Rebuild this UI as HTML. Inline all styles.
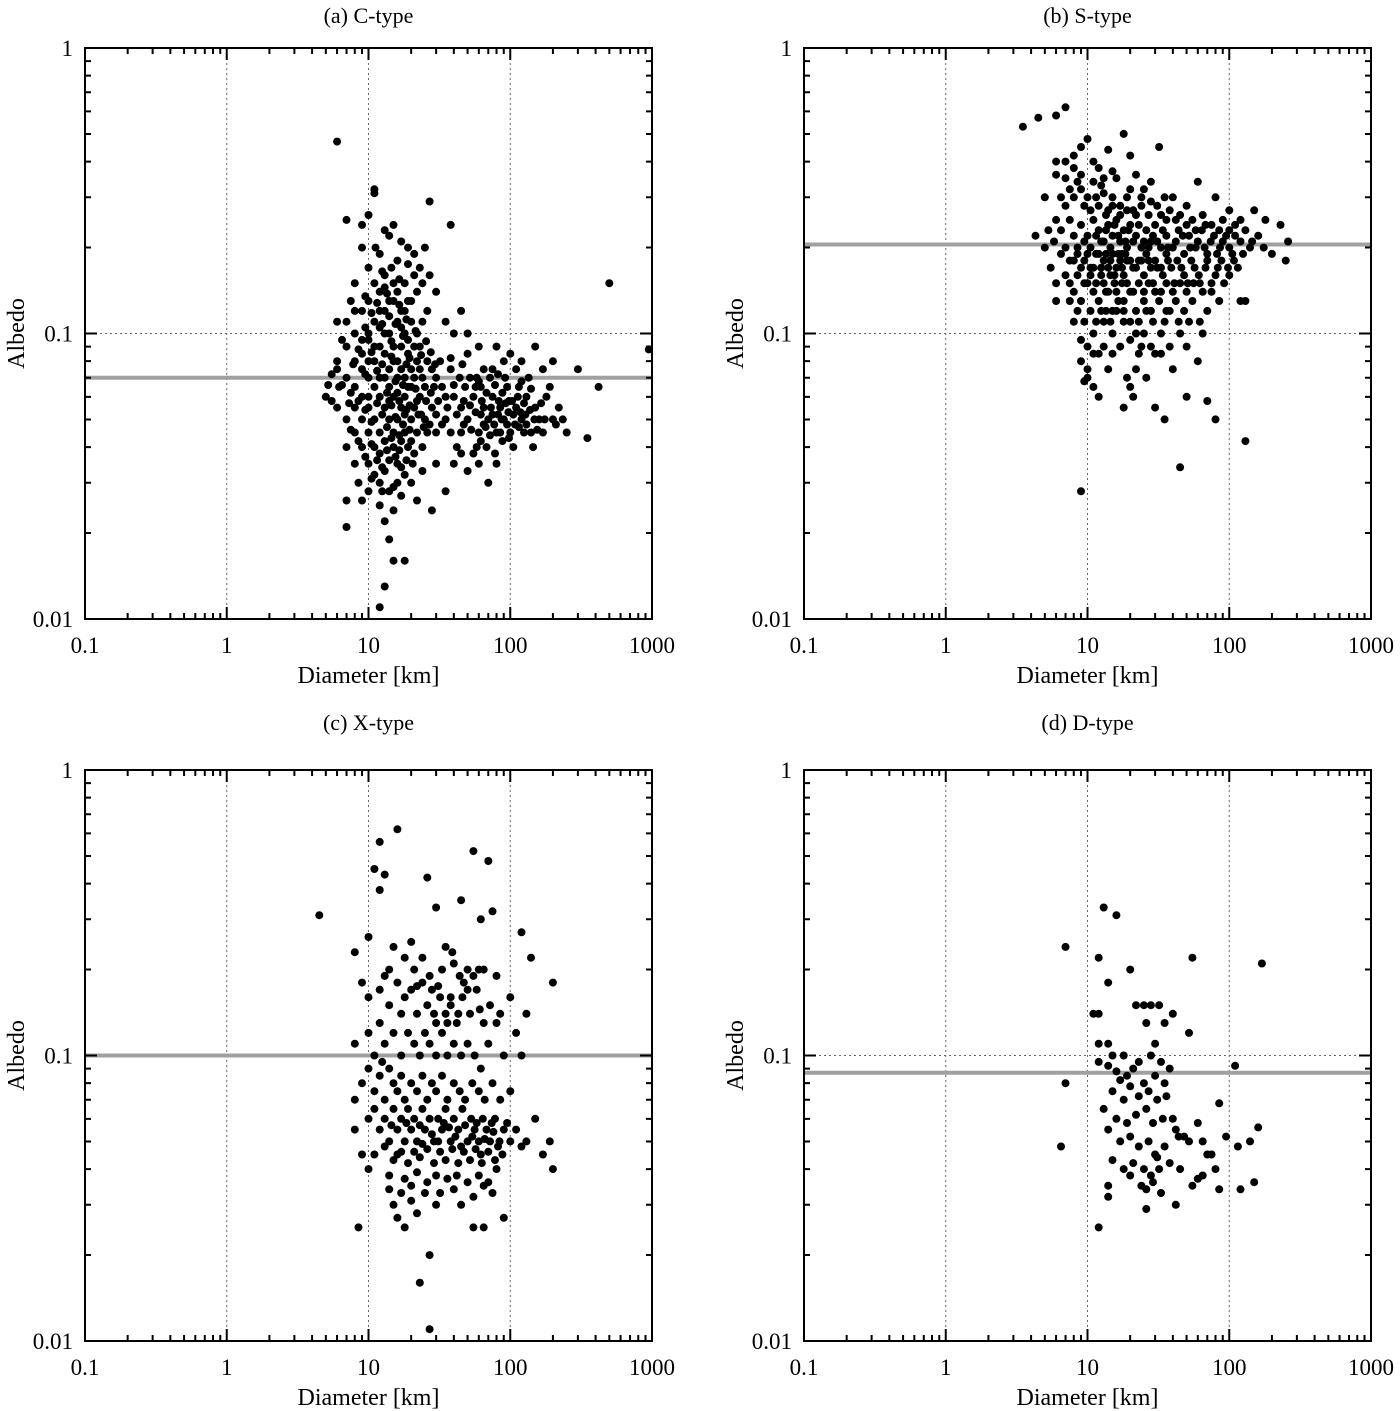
<!DOCTYPE html>
<html><head><meta charset="utf-8">
<style>
html,body{margin:0;padding:0;background:#fff;}
svg{display:block;font-family:"Liberation Serif",serif;}
</style></head>
<body>
<svg id="chart" width="1400" height="1411" viewBox="0 0 1400 1411" xmlns="http://www.w3.org/2000/svg"></svg>
<script>
const xTickValues = [0.1, 1, 10, 100, 1000];
const xTickLabels = ["0.1", "1", "10", "100", "1000"];
const yTickValues = [0.01, 0.1, 1];
const yTickLabels = ["0.01", "0.1", "1"];
const panelTitles = ["(a) C-type", "(b) S-type", "(c) X-type", "(d) D-type"];
const meanAlbedos = [0.07, 0.205, 0.1, 0.087];

const cTypePoints = [[7,0.25],[9,0.24],[10,0.26],[11,0.32],[13,0.23],[14,0.22],[15,0.24],[17,0.21],[19,0.2],[21,0.19],[23,0.17],[25,0.2],[27,0.16],[9,0.2],[12,0.19],[16,0.18],[10,0.17],[13,0.16],[18,0.15],[8,0.15],[22,0.14],[30,0.14],[26,0.12],[35,0.11],[40,0.1],[45,0.12],[50,0.1],[60,0.09],[80,0.09],[100,0.085],[150,0.09],[200,0.08],[120,0.08],
[6,0.11],[7,0.09],[8,0.1],[9,0.12],[10,0.13],[11,0.11],[12,0.14],[13,0.12],[14,0.1],[15,0.13],[16,0.11],[17,0.12],[18,0.1],[19,0.13],[20,0.11],[21,0.09],[22,0.1],[24,0.11],[15,0.09],[12,0.09],[9,0.085],[10,0.095],[11,0.08],[13,0.085],[14,0.075],[16,0.08],[17,0.09],[18,0.07],[19,0.085],[20,0.075],[22,0.08],[24,0.07],[26,0.08],[28,0.075],[30,0.07],[33,0.065],[6,0.075],[7,0.07],[8,0.065],[9,0.06],[10,0.07],[11,0.065],[12,0.06],[13,0.07],[14,0.065],[15,0.06],[16,0.07],[17,0.055],[18,0.06],[20,0.065],[21,0.055],[23,0.06],[25,0.05],[5,0.06],[6,0.055],[7,0.05],[8,0.055],[9,0.05],[10,0.055],[11,0.05],[12,0.045],[13,0.055],[14,0.05],[15,0.045],[16,0.05],[18,0.045],[20,0.05],[22,0.045],[26,0.045],[28,0.055],[7,0.04],[8,0.045],[9,0.04],[10,0.045],[11,0.04],[12,0.038],[13,0.042],[14,0.036],[15,0.04],[16,0.035],[17,0.042],[19,0.04],[21,0.038],[24,0.04],[8,0.035],[10,0.035],[11,0.032],[12,0.03],[13,0.033],[14,0.028],[16,0.03],[18,0.032],[20,0.03],[24,0.033],[30,0.035],[10,0.028],[12,0.025],[13,0.022],[15,0.024],[9,0.026],[7,0.026],[17,0.027],[22,0.026],[28,0.024],[35,0.028],
[11,0.15],[12,0.12],[14,0.13],[16,0.14],[18,0.12],[20,0.13],[10,0.1],[12,0.105],[14,0.115],[17,0.105],[19,0.095],[23,0.09],[9,0.075],[11,0.09],[13,0.1],[15,0.08],[17,0.075],[19,0.065],[21,0.07],[23,0.075],[25,0.065],[10,0.06],[12,0.07],[14,0.058],[16,0.062],[18,0.052],[20,0.042],[22,0.058],[8,0.08],[9,0.095],[8,0.12],[7,0.11],[10,0.08],
[9.5,0.135],[10.5,0.118],[11.5,0.128],[12.5,0.108],[13.5,0.138],[14.5,0.094],[15.5,0.108],[16.5,0.126],[17.5,0.098],[18.5,0.112],[19.5,0.082],[21.5,0.102],[23.5,0.084],[25.5,0.094],[27.5,0.086],[29.5,0.078],[8.5,0.088],[9.5,0.072],[10.5,0.086],[11.5,0.074],[12.5,0.078],[13.5,0.062],[14.5,0.083],[15.5,0.068],[16.5,0.058],[17.5,0.066],[18.5,0.078],[19.5,0.056],[21.5,0.064],[23.5,0.052],[25.5,0.058],[27.5,0.062],[31,0.058],[8.5,0.058],[9.5,0.054],[10.5,0.049],[11.5,0.057],[12.5,0.052],[13.5,0.047],[14.5,0.056],[15.5,0.051],[16.5,0.044],[17.5,0.048],[18.5,0.054],[19.5,0.046],[22.5,0.052],[24.5,0.047],[7.5,0.062],[6.5,0.066],[7.5,0.046],[8.5,0.042],[9.5,0.037],[10.5,0.041],[11.5,0.036],[12.5,0.034],[13.5,0.039],[14.5,0.043],[15.5,0.037],[16.5,0.039],[18.5,0.036],[20.5,0.035],[8.5,0.03],[10.5,0.031],[12.5,0.028],[15,0.029],[17,0.034],[11.2,0.2],[12.5,0.165],[14.5,0.17],[16.5,0.155],[19,0.175],[21,0.16],[24,0.15],[13,0.145],[15,0.15],[6.5,0.095],[7.5,0.13],[9.5,0.105],[6.2,0.065],[5.5,0.072],[7.3,0.057],[7.8,0.078],
[40,0.06],[45,0.055],[50,0.05],[55,0.06],[60,0.045],[65,0.055],[70,0.05],[75,0.06],[80,0.045],[85,0.055],[90,0.05],[95,0.065],[100,0.045],[110,0.055],[120,0.05],[130,0.06],[140,0.045],[150,0.055],[160,0.05],[180,0.06],[200,0.05],[220,0.055],[35,0.05],[38,0.045],[42,0.04],[48,0.065],[52,0.07],[58,0.04],[62,0.065],[68,0.04],[72,0.07],[78,0.038],[88,0.042],[92,0.07],[105,0.04],[115,0.065],[125,0.045],[135,0.07],[145,0.04],[170,0.045],[190,0.065],[250,0.045],[300,0.075],[40,0.035],[50,0.033],[60,0.035],[70,0.03],[80,0.035],[55,0.038],[65,0.048],[75,0.052],[85,0.045],[95,0.048],[105,0.052],[115,0.047],[125,0.057],[45,0.045],[35,0.06],[30,0.045],[32,0.08],[38,0.075],[44,0.07],[50,0.085],[65,0.075],[90,0.08],[110,0.075],[170,0.075],
[42,0.052],[47,0.058],[53,0.046],[57,0.053],[63,0.058],[67,0.047],[73,0.055],[77,0.048],[83,0.058],[87,0.05],[93,0.057],[97,0.053],[103,0.058],[108,0.048],[113,0.06],[118,0.053],[128,0.052],[138,0.054],[148,0.05],[165,0.057],[62,0.052],[72,0.044],[82,0.052],[52,0.056],[47,0.048],[57,0.065],[68,0.062],[78,0.066],[88,0.062],[98,0.058],[36,0.055],[40,0.066],[33,0.048],[30,0.052],[27,0.048],[29,0.065],[45,0.038],[62,0.042],[98,0.043],[130,0.048],[155,0.046],[175,0.05],[58,0.07],[75,0.075],[120,0.068],[140,0.064],[210,0.048],[235,0.05],[38,0.082],[46,0.078],[60,0.068],[82,0.072]];
cTypePoints.push([6,0.47],[11,0.31],[27,0.29],[38,0.24],[500,0.15],[950,0.088],[12,0.011],[13,0.013],[15,0.016],[18,0.016],[7,0.021],[14,0.019],[350,0.043],[420,0.065],[5.5,0.058],[5.2,0.066],[6,0.08]);

const sTypePoints = [[3.5,0.53],[4.5,0.57],[7,0.62],[6,0.58],[9,0.028],[45,0.034],[130,0.042],[80,0.05],[35,0.05],[30,0.055],[18,0.055],[50,0.06],[70,0.058],[4.3,0.22],[260,0.21],[250,0.18],[230,0.24],[200,0.19],
[5,0.3],[6,0.4],[7,0.35],[8,0.42],[9,0.45],[10,0.48],[12,0.38],[14,0.44],[16,0.35],[18,0.5],[20,0.42],[22,0.36],[25,0.32],[32,0.45],[40,0.3],[50,0.28],[60,0.34],[80,0.3],[100,0.27],[150,0.27],[180,0.25],
[5,0.2],[6,0.25],[7,0.28],[8,0.3],[9,0.32],[10,0.3],[11,0.34],[12,0.28],[13,0.31],[14,0.27],[15,0.3],[17,0.28],[19,0.3],[21,0.27],[24,0.28],[28,0.29],[33,0.26],[38,0.27],[45,0.26],[55,0.25],[65,0.26],[75,0.24],[90,0.25],[110,0.24],[130,0.23],
[5.5,0.17],[6,0.15],[7,0.2],[8,0.22],[9,0.24],[10,0.22],[11,0.25],[12,0.23],[13,0.21],[14,0.24],[15,0.22],[16,0.25],[17,0.21],[18,0.23],[19,0.2],[20,0.24],[22,0.22],[24,0.2],[26,0.23],[28,0.21],[30,0.24],[33,0.2],[36,0.22],[40,0.2],[44,0.23],[48,0.19],[52,0.22],[58,0.2],[64,0.23],[70,0.19],[78,0.22],[86,0.2],[95,0.22],[105,0.19],[120,0.21],[140,0.2],[160,0.22],
[6,0.13],[7,0.16],[8,0.18],[9,0.17],[10,0.19],[11,0.17],[12,0.19],[13,0.18],[14,0.17],[15,0.19],[16,0.17],[17,0.18],[18,0.16],[19,0.18],[21,0.17],[23,0.18],[25,0.16],[27,0.18],[29,0.15],[31,0.17],[34,0.16],[37,0.18],[41,0.15],[46,0.17],[51,0.15],[57,0.17],[62,0.15],[68,0.17],[75,0.15],[83,0.17],[92,0.15],[100,0.16],[115,0.17],[130,0.13],[120,0.13],[70,0.12],
[8,0.14],[9,0.13],[10,0.15],[11,0.14],[12,0.13],[13,0.15],[14,0.14],[15,0.12],[16,0.14],[18,0.13],[20,0.14],[22,0.12],[25,0.13],[28,0.12],[32,0.13],[36,0.12],[42,0.13],[48,0.12],[55,0.13],[62,0.11],[45,0.1],[35,0.11],
[8,0.11],[9,0.08],[10,0.09],[11,0.1],[12,0.085],[13,0.11],[15,0.1],[17,0.09],[18,0.11],[20,0.095],[22,0.1],[25,0.1],[28,0.09],[30,0.085],[38,0.09],[60,0.08],[65,0.1],[10,0.07],[11,0.065],[14,0.075],[19,0.07],[20,0.065],[22,0.075],[26,0.07],[40,0.075],[10,0.075],
[5.3,0.23],[5.8,0.21],[6.5,0.23],[7.5,0.25],[8.5,0.2],[9.5,0.21],[10.5,0.2],[11.5,0.22],[12.5,0.21],[13.5,0.23],[14.5,0.2],[15.5,0.24],[16.5,0.22],[17.5,0.19],[18.5,0.21],[19.5,0.23],[21,0.21],[23,0.24],[25,0.21],[27,0.2],[29,0.22],[31,0.21],[34,0.23],[37,0.2],[42,0.21],[47,0.22],[53,0.2],[60,0.21],[67,0.2],[74,0.21],[82,0.19],[90,0.21],[100,0.2],[110,0.22],[125,0.19],[145,0.21],[175,0.2],
[6.5,0.19],[7.5,0.18],[8.5,0.19],[9.5,0.18],[10.5,0.17],[11.5,0.19],[12.5,0.17],[13.5,0.19],[14.5,0.18],[15.5,0.16],[16.5,0.19],[17.5,0.17],[18.5,0.19],[20,0.18],[22,0.17],[24,0.18],[26,0.19],[28,0.17],[30,0.18],[33,0.17],[36,0.19],[39,0.17],[43,0.18],[48,0.16],[54,0.18],[61,0.16],[70,0.18],[80,0.16],[88,0.18],[98,0.17],[108,0.18],
[7.5,0.15],[8.5,0.16],[9.5,0.15],[10.5,0.16],[11.5,0.15],[12.5,0.16],[13.5,0.14],[14.5,0.16],[15.5,0.15],[16.5,0.13],[17.5,0.15],[19,0.15],[21,0.14],[23,0.15],[25,0.14],[27,0.15],[30,0.14],[33,0.14],[36,0.15],[40,0.14],[45,0.15],[50,0.14],[56,0.15],[65,0.14],[75,0.14],[85,0.13],
[7.5,0.13],[8.5,0.12],[9.5,0.11],[10.5,0.12],[11.5,0.11],[12.5,0.12],[13.5,0.12],[14.5,0.11],[16,0.12],[18,0.12],[20,0.11],[23,0.11],[26,0.12],[29,0.11],[33,0.1],[38,0.12],[44,0.11],[52,0.11],[9,0.095],[11,0.085],[13,0.09],[15,0.085],[24,0.09],[33,0.085],[50,0.09],[9.5,0.068],[12,0.06],[21,0.06],[23,0.085],
[6.5,0.3],[7.5,0.32],[8.5,0.34],[9.5,0.28],[10.5,0.27],[11.5,0.3],[12.5,0.33],[13.5,0.26],[15,0.28],[17,0.26],[19,0.27],[22,0.26],[24,0.3],[27,0.26],[31,0.28],[36,0.25],[42,0.25],[50,0.24],[58,0.23],[68,0.24],[85,0.23],[100,0.23],[120,0.25],[6,0.36],[7,0.4],[8,0.38],[9,0.36],[11,0.4],[13,0.35],[15,0.37],[20,0.32],[28,0.34],[35,0.3]];

const xTypePoints = [[4.5,0.31],[16,0.62],[12,0.56],[11,0.45],[13,0.43],[26,0.42],[55,0.52],[70,0.48],[12,0.38],[30,0.33],[45,0.35],[62,0.3],[75,0.32],[8,0.23],[10,0.26],[15,0.24],[20,0.25],[24,0.22],[35,0.24],[40,0.21],[50,0.2],[60,0.2],[80,0.19],[120,0.27],[140,0.22],[200,0.18],
[9,0.18],[10,0.16],[12,0.17],[13,0.19],[14,0.15],[16,0.18],[18,0.16],[20,0.17],[22,0.14],[24,0.18],[26,0.15],[28,0.17],[30,0.13],[32,0.16],[35,0.14],[38,0.15],[42,0.13],[46,0.16],[52,0.14],[58,0.17],[65,0.13],[72,0.15],[85,0.14],[100,0.16],[110,0.12],[130,0.14],
[8,0.11],[10,0.12],[11,0.1],[12,0.13],[13,0.11],[15,0.12],[17,0.1],[19,0.12],[21,0.11],[23,0.1],[25,0.12],[27,0.11],[30,0.1],[33,0.12],[36,0.1],[40,0.11],[45,0.1],[50,0.11],[56,0.1],[62,0.09],[70,0.11],[90,0.1],[120,0.1],
[8,0.07],[9,0.08],[10,0.09],[11,0.075],[12,0.085],[13,0.07],[14,0.09],[15,0.08],[16,0.075],[17,0.085],[18,0.07],[20,0.08],[22,0.075],[24,0.085],[26,0.07],[28,0.08],[30,0.075],[33,0.085],[36,0.07],[40,0.08],[44,0.075],[48,0.07],[54,0.08],[60,0.075],[66,0.07],[75,0.08],[85,0.07],[100,0.075],
[8,0.055],[10,0.06],[11,0.065],[12,0.055],[13,0.06],[14,0.05],[15,0.065],[16,0.055],[17,0.06],[18,0.05],[19,0.065],[20,0.055],[21,0.06],[22,0.05],[24,0.065],[25,0.055],[27,0.06],[29,0.05],[31,0.06],[33,0.055],[35,0.065],[38,0.05],[40,0.06],[43,0.055],[46,0.065],[50,0.05],[53,0.06],[56,0.055],[60,0.05],[64,0.06],[68,0.055],[72,0.05],[78,0.06],[84,0.05],[90,0.055],[100,0.05],[110,0.055],[130,0.05],[150,0.06],[170,0.045],[190,0.05],
[9,0.045],[11,0.045],[13,0.048],[15,0.043],[17,0.046],[19,0.042],[21,0.046],[23,0.044],[26,0.047],[29,0.042],[32,0.046],[35,0.043],[39,0.047],[43,0.042],[47,0.046],[52,0.043],[57,0.047],[63,0.042],[70,0.046],[78,0.043],[88,0.045],[200,0.04],
[10,0.04],[14,0.038],[18,0.037],[22,0.039],[26,0.036],[30,0.038],[36,0.037],[42,0.038],[50,0.036],[60,0.038],[70,0.036],[80,0.04],[14,0.034],[17,0.033],[20,0.035],[25,0.033],[32,0.033],[40,0.034],[55,0.032],[65,0.035],[75,0.033],[15,0.03],[20,0.031],[30,0.03],[45,0.03],[16,0.027],[18,0.025],[22,0.028],[8.5,0.025],[55,0.025],[65,0.025],[90,0.027],[27,0.02],[23,0.016],[27,0.011],
[14.5,0.057],[18.5,0.058],[23,0.057],[28,0.053],[34,0.058],[41,0.052],[48,0.057],[58,0.058],[66,0.051],[76,0.054],[95,0.058],[120,0.048],[16,0.045],[24,0.049],[31,0.05],[37,0.056],[45,0.048],[54,0.052],[62,0.045],[74,0.058],[82,0.048],[12.5,0.095],[17,0.14],[21,0.2],[27,0.19],[33,0.2],[39,0.23],[47,0.18],[55,0.19],[65,0.2],[29,0.14],[36,0.13],[43,0.14],[50,0.17],[14,0.2],[18,0.22],[22,0.175],[31,0.175],[38,0.16],[44,0.19],[61,0.145],[80,0.13]];

const dTypePoints = [[7,0.24],[13,0.33],[16,0.31],[12,0.22],[20,0.2],[14,0.18],[170,0.21],[55,0.22],[22,0.15],[25,0.15],[28,0.15],[32,0.15],[40,0.14],[12,0.14],[11,0.14],[35,0.13],[26,0.13],[52,0.12],[30,0.11],[12,0.11],[15,0.1],[14,0.11],[18,0.1],[23,0.095],[28,0.1],[33,0.095],[38,0.09],[12,0.095],[14,0.092],[16,0.088],[19,0.085],[21,0.09],[25,0.08],[30,0.085],[35,0.08],[7,0.08],[110,0.092],[17,0.082],[20,0.078],[23,0.072],[27,0.075],[31,0.07],[36,0.072],[18,0.07],[15,0.075],[13,0.065],[16,0.06],[19,0.058],[22,0.062],[26,0.065],[29,0.058],[34,0.06],[42,0.055],[48,0.052],[40,0.06],[60,0.058],[85,0.068],[14,0.055],[17,0.05],[20,0.052],[23,0.048],[27,0.05],[30,0.045],[35,0.048],[44,0.052],[52,0.05],[65,0.05],[75,0.045],[95,0.052],[6.5,0.048],[160,0.056],[140,0.05],[115,0.048],[15,0.043],[18,0.04],[21,0.042],[25,0.04],[28,0.038],[32,0.04],[38,0.042],[45,0.04],[55,0.035],[65,0.038],[70,0.045],[80,0.04],[14,0.035],[20,0.038],[26,0.034],[29,0.036],[33,0.033],[60,0.037],[150,0.036],[120,0.034],[85,0.034],[14,0.032],[26,0.029],[42,0.03],[12,0.025],[24,0.035],[31,0.044]];

const NS = "http://www.w3.org/2000/svg";
const svg = document.getElementById("chart");
const PW = 567, PH = 571;
const origins = [[85,48],[804,48],[85,770],[804,770]];
const titleOffsets = [25, 25, 40, 40];
const datasets = [cTypePoints, sTypePoints, xTypePoints, dTypePoints];
const panelNames = ["c-type","s-type","x-type","d-type"];

function mk(tag, attrs, parent) {
  const el = document.createElementNS(NS, tag);
  for (const k in attrs) el.setAttribute(k, attrs[k]);
  parent.appendChild(el);
  return el;
}

function drawPanel(i) {
  const [ox, oy] = origins[i];
  const xs = v => ox + (Math.log10(v) + 1) / 4 * PW;
  const ys = v => oy + (-Math.log10(v)) / 2 * PH;
  const g = mk("g", {}, svg);
  
  

  xTickValues.slice(1, -1).forEach(v => {
    const l = mk("line", {x1: xs(v), x2: xs(v), y1: oy, y2: oy + PH, stroke: "#666", "stroke-width": 1, "stroke-dasharray": "2,3"}, g);
    
    
  });
  const yg = mk("line", {x1: ox, x2: ox + PW, y1: ys(0.1), y2: ys(0.1), stroke: "#666", "stroke-width": 1, "stroke-dasharray": "2,3"}, g);
  
  

  const ml = mk("line", {x1: ox, x2: ox + PW, y1: ys(meanAlbedos[i]), y2: ys(meanAlbedos[i]), stroke: "#a0a0a0", "stroke-width": 4}, g);
  
  

  const tk = [];
  for (let d = -1; d < 3; d++) {
    for (let m = 1; m < 10; m++) {
      if (m === 1 && d === -1) continue;
      const x = xs(m * Math.pow(10, d));
      const len = m === 1 ? 12 : 6;
      tk.push(`M${x},${oy}v${len}M${x},${oy+PH}v${-len}`);
    }
  }
  for (let d = -2; d < 0; d++) {
    for (let m = 1; m < 10; m++) {
      if (m === 1 && d === -2) continue;
      const y = ys(m * Math.pow(10, d));
      const len = m === 1 ? 12 : 6;
      tk.push(`M${ox},${y}h${len}M${ox+PW},${y}h${-len}`);
    }
  }
  const tp = mk("path", {d: tk.join(""), stroke: "#000", "stroke-width": 2, fill: "none"}, g);
  
  

  const pg = mk("g", {fill: "#000"}, g);
  
  
  datasets[i].forEach(p => {
    const c = mk("circle", {cx: xs(p[0]).toFixed(1), cy: ys(p[1]).toFixed(1), r: 4}, pg);
    
    
  });

  const fr = mk("rect", {x: ox, y: oy, width: PW, height: PH, fill: "none", stroke: "#000", "stroke-width": 2}, g);
  
  

  xTickValues.forEach((v, k) => {
    const t = mk("text", {x: xs(v), y: oy + PH + 34, "text-anchor": "middle", "font-size": 23}, g);
    t.textContent = xTickLabels[k];
    
    
  });
  yTickValues.forEach((v, k) => {
    const t = mk("text", {x: ox - 12, y: ys(v) + 8, "text-anchor": "end", "font-size": 23}, g);
    t.textContent = yTickLabels[k];
    
    
  });
  const xt = mk("text", {x: ox + PW / 2, y: oy + PH + 64, "text-anchor": "middle", "font-size": 24}, g);
  xt.textContent = "Diameter [km]";
  
  
  const yt = mk("text", {x: 0, y: 0, "text-anchor": "middle", "font-size": 24, transform: `translate(${ox - 61},${oy + PH / 2}) rotate(-90)`}, g);
  yt.textContent = "Albedo";
  
  
  const ti = mk("text", {x: ox + PW / 2, y: oy - titleOffsets[i], "text-anchor": "middle", "font-size": 22}, g);
  ti.textContent = panelTitles[i];
  
  
}
for (let i = 0; i < 4; i++) drawPanel(i);
</script>
</body></html>
